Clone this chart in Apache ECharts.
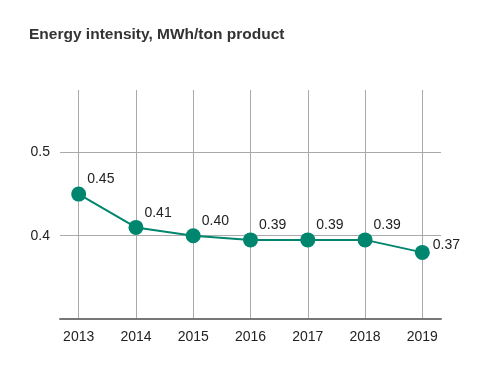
<!DOCTYPE html>
<html>
<head>
<meta charset="utf-8">
<script src="https://cdn.jsdelivr.net/npm/echarts@6/dist/echarts.min.js"></script>
<style>
  html, body { margin: 0; padding: 0; background: #fff; }
  #chart { width: 500px; height: 375px; }
</style>
</head>
<body>
<div id="chart"></div>
<script>
// data
const years = [2013, 2014, 2015, 2016, 2017, 2018, 2019]
const intensity = [0.45, 0.41, 0.40, 0.395, 0.395, 0.395, 0.38]
const valueLabels = ['0.45', '0.41', '0.40', '0.39', '0.39', '0.39', '0.37']
const yTicks = [0.4, 0.5]

const teal = '#00866f'
const chart = echarts.init(document.getElementById('chart'))

const seriesData = years.map((y, i) => {
  const item = { value: [y, intensity[i]] }
  // last label sits lower, next to the point
  if (i === years.length - 1) item.label = { position: [18, 0] }
  return item
})

chart.setOption({
  backgroundColor: '#fff',
  animation: false,
  title: {
    text: 'Energy intensity, MWh/ton product',
    left: 24,
    top: 22,
    textStyle: { fontFamily: 'Liberation Sans', fontSize: 15.5, fontWeight: 'bold', color: '#333' }
  },
  grid: { left: 60, right: 59, top: 90, bottom: 56 },
  xAxis: {
    type: 'value',
    min: 2012.674,
    max: 2019.326,
    axisLine: { show: true, onZero: false, lineStyle: { color: '#777', width: 2 } },
    axisTick: { show: false, customValues: years },
    axisLabel: {
      customValues: years,
      color: '#222',
      fontFamily: 'Liberation Sans',
      fontSize: 14,
      margin: 11,
      formatter: v => String(v)
    },
    splitLine: { show: true, lineStyle: { color: '#aaa', width: 1 } }
  },
  yAxis: {
    type: 'value',
    min: 0.3,
    max: 0.575,
    interval: 0.1,
    axisLine: { show: false },
    axisTick: { show: false },
    axisLabel: {
      customValues: yTicks,
      color: '#222',
      fontFamily: 'Liberation Sans',
      fontSize: 14,
      margin: 10,
      formatter: v => v.toFixed(1)
    },
    splitLine: {
      show: true,
      showMinLine: false,
      showMaxLine: false,
      lineStyle: { color: '#aaa', width: 1 }
    }
  },
  series: [{
    type: 'line',
    data: seriesData,
    symbol: 'circle',
    symbolSize: 15,
    itemStyle: { color: teal },
    lineStyle: { color: teal, width: 2 },
    label: {
      show: true,
      position: [16, -7],
      align: 'left',
      verticalAlign: 'middle',
      color: '#222',
      fontFamily: 'Liberation Sans',
      fontSize: 14,
      formatter: p => valueLabels[p.dataIndex]
    }
  }]
})
</script>
</body>
</html>
